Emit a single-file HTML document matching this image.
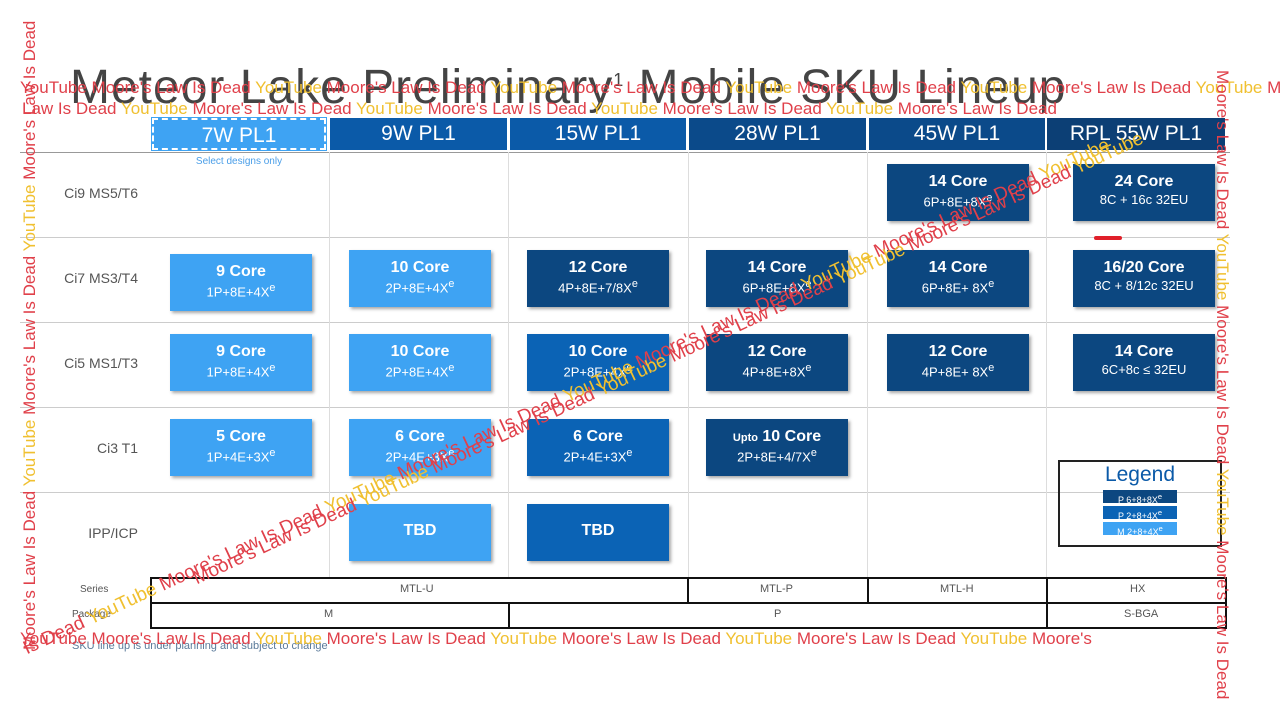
<!DOCTYPE html>
<html><head><meta charset="utf-8"><style>
body{margin:0;width:1280px;height:720px;background:#fff;position:relative;overflow:hidden;font-family:"Liberation Sans","DejaVu Sans",sans-serif;}
.a{position:absolute}
.title{left:70px;top:60px;font-size:48px;color:#444;letter-spacing:1px;white-space:nowrap}
.hd{top:118px;height:32px;color:#fff;font-size:21px;text-align:center;line-height:32px}
.hl{position:absolute;height:1px;background:#ccc;left:20px;width:1210px}
.vl{position:absolute;width:1px;background:#ddd;top:152px;height:425px}
.rl{left:20px;width:118px;text-align:right;font-size:14px;color:#555}
.b{position:absolute;width:142px;height:57px;color:#fff;text-align:center;box-shadow:2px 2px 3px rgba(0,0,0,.35)}
.b .t{font-weight:bold;font-size:16px;margin-top:9px}
.b .s{font-size:13px;margin-top:1px}
.L{background:#3ea3f3}.M{background:#0b63b5}.D{background:#0c4780}
.wm{position:absolute;white-space:nowrap;font-size:17px;color:#e0404a}
.wm span{color:#f0c030}
</style></head><body>
<div class="a title">Meteor Lake Preliminary<sup style="font-size:18px">1</sup> Mobile SKU Lineup</div>
<div class="wm" style="left:20px;top:78px">YouTube Moore's Law Is Dead <span>YouTube</span> Moore's Law Is Dead <span>YouTube</span> Moore's Law Is Dead <span>YouTube</span> Moore's Law Is Dead <span>YouTube</span> Moore's Law Is Dead <span>YouTube</span> Moore's</div>
<div class="wm" style="left:22px;top:99px">Law Is Dead <span>YouTube</span> Moore's Law Is Dead <span>YouTube</span> Moore's Law Is Dead <span>YouTube</span> Moore's Law Is Dead <span>YouTube</span> Moore's Law Is Dead</div>

<div class="a hd" style="left:152px;width:174px;background:#3ea3f3;border:2px dashed #fff;outline:1px solid #3ea3f3;box-sizing:border-box">7W PL1</div>
<div class="a hd" style="left:330px;width:177px;background:#0b5aa8">9W PL1</div>
<div class="a hd" style="left:510px;width:176px;background:#0b5aa8">15W PL1</div>
<div class="a hd" style="left:689px;width:177px;background:#0b4a8a">28W PL1</div>
<div class="a hd" style="left:869px;width:176px;background:#0b4a8a">45W PL1</div>
<div class="a hd" style="left:1047px;width:178px;background:#0c3f75">RPL 55W PL1</div>
<div class="a" style="left:152px;top:156px;width:174px;text-align:center;font-size:10px;color:#4a9ee8">Select designs only</div>

<div class="hl" style="top:152px;background:#999"></div>
<div class="hl" style="top:237px"></div><div class="hl" style="top:322px"></div>
<div class="hl" style="top:407px"></div><div class="hl" style="top:492px"></div>
<div class="vl" style="left:329px"></div><div class="vl" style="left:508px"></div>
<div class="vl" style="left:688px"></div><div class="vl" style="left:867px"></div><div class="vl" style="left:1046px"></div>

<div class="a rl" style="top:185px">Ci9 MS5/T6</div>
<div class="a rl" style="top:270px">Ci7 MS3/T4</div>
<div class="a rl" style="top:355px">Ci5 MS1/T3</div>
<div class="a rl" style="top:440px">Ci3 T1</div>
<div class="a rl" style="top:525px">IPP/ICP</div>

<div class="b D" style="left:887px;top:164px"><div class="t">14 Core</div><div class="s">6P+8E+8X<sup>e</sup></div></div>
<div class="b D" style="left:1073px;top:164px"><div class="t">24 Core</div><div class="s">8C + 16c 32EU</div></div>

<div class="b L" style="left:170px;top:254px"><div class="t">9 Core</div><div class="s">1P+8E+4X<sup>e</sup></div></div>
<div class="b L" style="left:349px;top:250px"><div class="t">10 Core</div><div class="s">2P+8E+4X<sup>e</sup></div></div>
<div class="b D" style="left:527px;top:250px"><div class="t">12 Core</div><div class="s">4P+8E+7/8X<sup>e</sup></div></div>
<div class="b D" style="left:706px;top:250px"><div class="t">14 Core</div><div class="s">6P+8E+8X<sup>e</sup></div></div>
<div class="b D" style="left:887px;top:250px"><div class="t">14 Core</div><div class="s">6P+8E+ 8X<sup>e</sup></div></div>
<div class="b D" style="left:1073px;top:250px"><div class="t">16/20 Core</div><div class="s">8C + 8/12c 32EU</div></div>

<div class="b L" style="left:170px;top:334px"><div class="t">9 Core</div><div class="s">1P+8E+4X<sup>e</sup></div></div>
<div class="b L" style="left:349px;top:334px"><div class="t">10 Core</div><div class="s">2P+8E+4X<sup>e</sup></div></div>
<div class="b M" style="left:527px;top:334px"><div class="t">10 Core</div><div class="s">2P+8E+4X<sup>e</sup></div></div>
<div class="b D" style="left:706px;top:334px"><div class="t">12 Core</div><div class="s">4P+8E+8X<sup>e</sup></div></div>
<div class="b D" style="left:887px;top:334px"><div class="t">12 Core</div><div class="s">4P+8E+ 8X<sup>e</sup></div></div>
<div class="b D" style="left:1073px;top:334px"><div class="t">14 Core</div><div class="s">6C+8c ≤ 32EU</div></div>

<div class="b L" style="left:170px;top:419px"><div class="t">5 Core</div><div class="s">1P+4E+3X<sup>e</sup></div></div>
<div class="b L" style="left:349px;top:419px"><div class="t">6 Core</div><div class="s">2P+4E+3X<sup>e</sup></div></div>
<div class="b M" style="left:527px;top:419px"><div class="t">6 Core</div><div class="s">2P+4E+3X<sup>e</sup></div></div>
<div class="b D" style="left:706px;top:419px"><div class="t"><span style="font-size:11px">Upto</span> 10 Core</div><div class="s">2P+8E+4/7X<sup>e</sup></div></div>

<div class="b L" style="left:349px;top:504px"><div class="t" style="margin-top:18px">TBD</div></div>
<div class="b M" style="left:527px;top:504px"><div class="t" style="margin-top:18px">TBD</div></div>

<div class="a" style="left:1058px;top:460px;width:160px;height:83px;border:2px solid #222">
<div style="text-align:center;font-size:21px;color:#0b5aa8;margin-top:1px">Legend</div>
<div style="margin:3px auto 0;width:74px;height:13px;background:#0c4780;color:#fff;font-size:9px;text-align:center;line-height:13px">P 6+8+8X<sup>e</sup></div>
<div style="margin:3px auto 0;width:74px;height:13px;background:#0b63b5;color:#fff;font-size:9px;text-align:center;line-height:13px">P 2+8+4X<sup>e</sup></div>
<div style="margin:3px auto 0;width:74px;height:13px;background:#3ea3f3;color:#fff;font-size:9px;text-align:center;line-height:13px">M 2+8+4X<sup>e</sup></div>
</div>

<div class="a" style="left:150px;top:577px;width:1073px;height:48px;border:2px solid #111"></div>
<div class="a" style="left:150px;top:602px;width:1075px;height:2px;background:#111"></div>
<div class="a" style="left:687px;top:577px;width:2px;height:25px;background:#111"></div>
<div class="a" style="left:867px;top:577px;width:2px;height:25px;background:#111"></div>
<div class="a" style="left:1046px;top:577px;width:2px;height:50px;background:#111"></div>
<div class="a" style="left:508px;top:602px;width:2px;height:25px;background:#111"></div>
<div class="a" style="left:80px;top:584px;font-size:10px;color:#555">Series</div>
<div class="a" style="left:72px;top:609px;font-size:10px;color:#555">Package</div>
<div class="a" style="left:400px;top:583px;font-size:11px;color:#555">MTL-U</div>
<div class="a" style="left:760px;top:583px;font-size:11px;color:#555">MTL-P</div>
<div class="a" style="left:940px;top:583px;font-size:11px;color:#555">MTL-H</div>
<div class="a" style="left:1130px;top:583px;font-size:11px;color:#555">HX</div>
<div class="a" style="left:324px;top:608px;font-size:11px;color:#555">M</div>
<div class="a" style="left:774px;top:608px;font-size:11px;color:#555">P</div>
<div class="a" style="left:1124px;top:608px;font-size:11px;color:#555">S-BGA</div>
<div class="a" style="left:72px;top:640px;font-size:11px;color:#5a7a9a">SKU line up is under planning and subject to change</div>

<div class="wm" style="left:20px;top:629px">YouTube <span style="color:#e0404a">Moore's Law Is Dead</span> <span>YouTube</span> Moore's Law Is Dead <span>YouTube</span> Moore's Law Is Dead <span>YouTube</span> Moore's Law Is Dead <span>YouTube</span> Moore's</div>
<div class="wm" style="left:20px;top:650px;transform:rotate(-90deg);transform-origin:0 0">Moore's Law Is Dead <span>YouTube</span> Moore's Law Is Dead <span>YouTube</span> Moore's Law Is Dead</div>
<div class="wm" style="left:1232px;top:70px;transform:rotate(90deg);transform-origin:0 0">Moore's Law Is Dead <span>YouTube</span> Moore's Law Is Dead <span>YouTube</span> Moore's Law Is Dead</div>
<div class="wm" style="left:20px;top:640px;transform:rotate(-25deg);transform-origin:0 0;font-size:19px">Is Dead <span>YouTube</span> Moore's Law Is Dead <span>YouTube</span> Moore's Law Is Dead <span>YouTube</span> Moore's Law Is Dead <span>YouTube</span> Moore's Law Is Dead <span>YouTube</span></div>
<div class="wm" style="left:190px;top:570px;transform:rotate(-25deg);transform-origin:0 0;font-size:19px">Moore's Law Is Dead <span>YouTube</span> Moore's Law Is Dead <span>YouTube</span> Moore's Law Is Dead <span>YouTube</span> Moore's Law Is Dead <span>YouTube</span></div>
<div class="a" style="left:1094px;top:236px;width:28px;height:4px;background:#e0202a;border-radius:2px"></div>
</body></html>
